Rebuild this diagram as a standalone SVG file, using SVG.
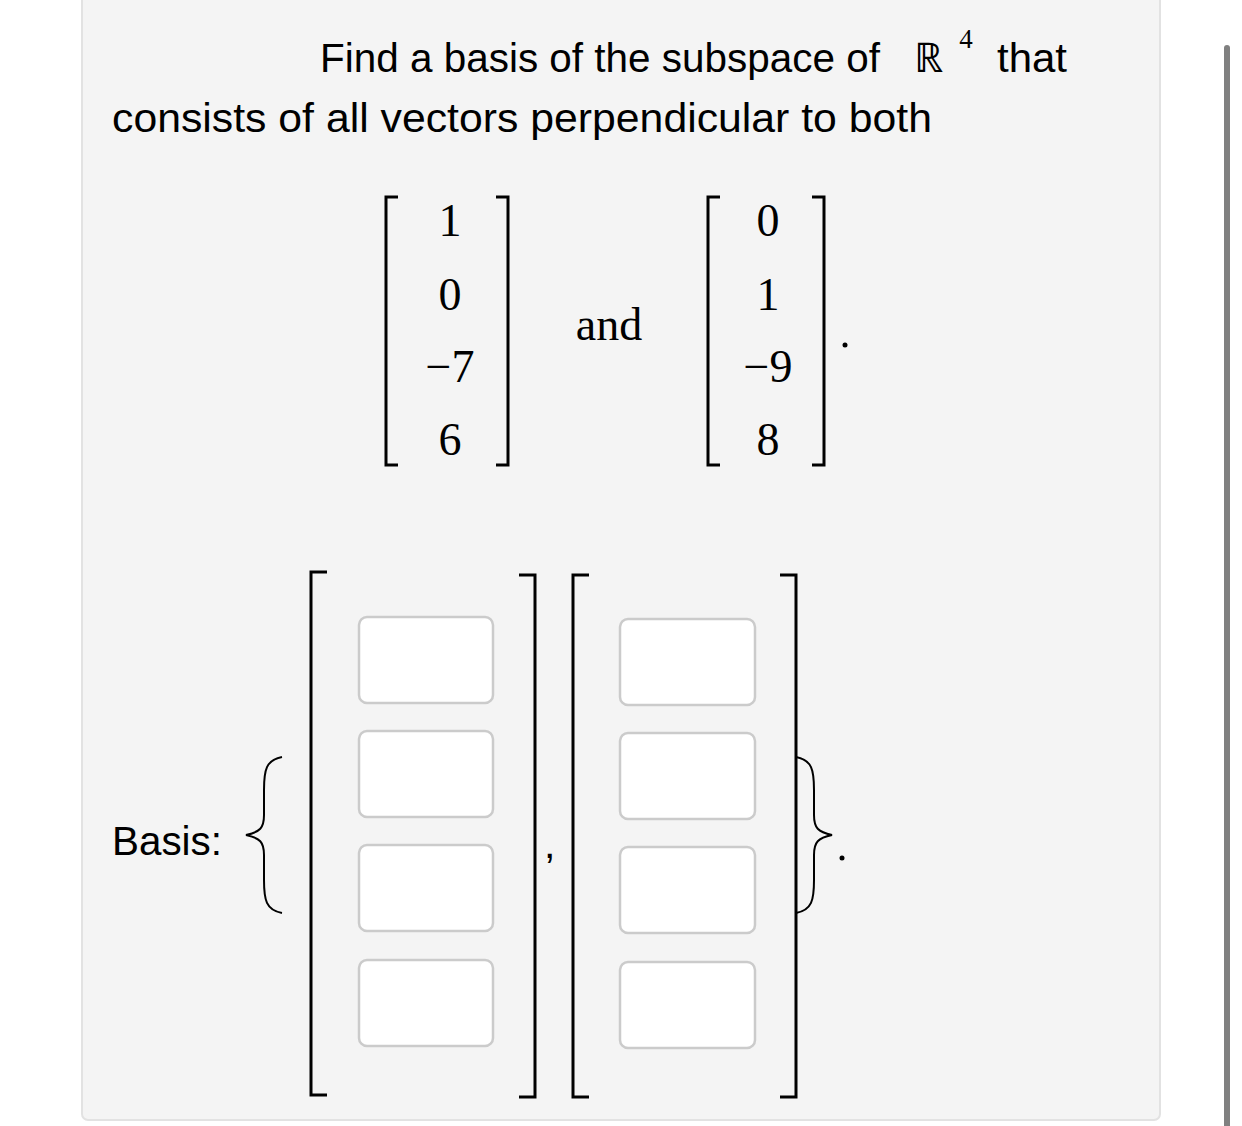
<svg xmlns="http://www.w3.org/2000/svg" width="1242" height="1126" viewBox="0 0 1242 1126">
<style>
.s{font-family:"Liberation Sans",Arial,sans-serif;font-size:41px;fill:#000}
.m{font-family:"Liberation Serif","Times New Roman",serif;font-size:46px;fill:#000;text-anchor:middle}
.b{fill:none;stroke:#000;stroke-width:3}
.box{fill:#fff;stroke:#cbcbcb;stroke-width:2.5}
</style>
<rect width="1242" height="1126" fill="#fff"/>
<rect x="82" y="-10" width="1078" height="1130" rx="6" fill="#f4f4f4" stroke="#e2e2e2" stroke-width="2"/>
<rect x="1224" y="45" width="6" height="1090" rx="3" fill="#808080"/>
<g id="question">
<text class="s" x="320" y="72" textLength="560" lengthAdjust="spacingAndGlyphs">Find a basis of the subspace of</text>
<text class="s" x="914" y="72">ℝ</text>
<text class="m" x="966" y="48" style="font-size:27px">4</text>
<text class="s" x="997" y="72" textLength="70" lengthAdjust="spacingAndGlyphs">that</text>
<text class="s" x="112" y="132" textLength="820" lengthAdjust="spacingAndGlyphs">consists of all vectors perpendicular to both</text>
</g>
<g id="vector1">
<path class="b" d="M398 197H386V465H398M496 197H508V465H496"/>
<text class="m" x="450" y="236">1</text>
<text class="m" x="450" y="310">0</text>
<text class="m" x="450" y="382">−7</text>
<text class="m" x="450" y="455">6</text>
</g>
<text class="m" x="609" y="340">and</text>
<g id="vector2">
<path class="b" d="M720 197H708V465H720M812 197H824V465H812"/>
<text class="m" x="768" y="236">0</text>
<text class="m" x="768" y="310">1</text>
<text class="m" x="768" y="382">−9</text>
<text class="m" x="768" y="455">8</text>
</g>
<circle cx="845" cy="345" r="2.5"/>
<g id="basis">
<text class="s" x="112" y="855" textLength="110" lengthAdjust="spacingAndGlyphs">Basis:</text>
<path d="M282 757C266 760 264 770 264 790V815C264 828 260 832 246 835C260 838 264 842 264 855V880C264 900 266 910 282 913" fill="none" stroke="#000" stroke-width="2"/>
<path d="M796 757C812 760 814 770 814 790V815C814 828 818 832 832 835C818 838 814 842 814 855V880C814 900 812 910 796 913" fill="none" stroke="#000" stroke-width="2"/>
<circle cx="842" cy="858" r="2.5"/>
<text class="s" x="544" y="858">,</text>
</g>
<g id="basis1">
<path class="b" d="M327 572H311V1095H327M519 575H535V1097H519"/>
<rect class="box" x="359" y="617" width="134" height="86" rx="8"/>
<rect class="box" x="359" y="731" width="134" height="86" rx="8"/>
<rect class="box" x="359" y="845" width="134" height="86" rx="8"/>
<rect class="box" x="359" y="960" width="134" height="86" rx="8"/>
</g>
<g id="basis2">
<path class="b" d="M589 575H573V1097H589M780 575H796V1097H780"/>
<rect class="box" x="620" y="619" width="135" height="86" rx="8"/>
<rect class="box" x="620" y="733" width="135" height="86" rx="8"/>
<rect class="box" x="620" y="847" width="135" height="86" rx="8"/>
<rect class="box" x="620" y="962" width="135" height="86" rx="8"/>
</g>
</svg>
